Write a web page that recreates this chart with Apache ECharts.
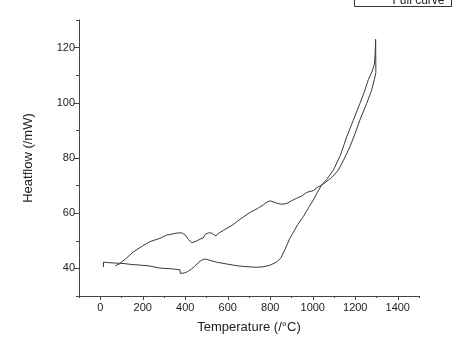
<!DOCTYPE html>
<html>
<head>
<meta charset="utf-8">
<script src="https://cdn.jsdelivr.net/npm/echarts@6/dist/echarts.min.js"></script>
<style>
  html, body { margin: 0; padding: 0; background: #fff; }
  #chart { width: 474px; height: 345px; }
</style>
</head>
<body>
<div id="chart"></div>
<script>
// DSC run: heating to 1300 °C, then cooling back down
const temperature = [
  15, 15, 36, 77, 107, 150, 187, 230, 281, 330, 375, 377, 395, 410, 430, 450, 470, 485, 500, 517,
  550, 595, 640, 690, 736, 770, 800, 830, 850, 870, 893, 908, 930, 956, 980, 1003, 1025, 1042,
  1066, 1097, 1130, 1160, 1190, 1222, 1245, 1261, 1280, 1290, 1294, 1296, 1297,
  1290, 1277, 1254, 1222, 1200, 1175, 1150, 1120, 1090, 1060, 1042, 1020, 1003, 997, 970, 950,
  924, 900, 880, 861, 846, 825, 799, 780, 767, 740, 705, 658, 620, 580, 556, 545, 535, 524, 510,
  501, 493, 485, 469, 450, 430, 415, 399, 383, 360, 330, 313, 281, 234, 200, 156, 120, 90, 77, 70
];
const heatflow = [
  40.5, 42.3, 42.1, 41.9, 41.8, 41.4, 41.2, 40.9, 40.1, 39.9, 39.5, 38.2, 38.3, 38.8, 39.8, 41.2, 42.6, 43.3, 43.3, 42.9,
  42.2, 41.6, 41.0, 40.6, 40.4, 40.6, 41.2, 42.3, 43.8, 47.0, 51.0, 53.0, 56.0, 58.8, 62.0, 64.8, 68.0, 70.2,
  72.3, 75.6, 81.0, 87.7, 93.5, 99.8, 104.5, 108.3, 111.5, 114.0, 118.0, 123.0, 111.0,
  108.5, 104.6, 99.8, 93.8, 89.0, 84.1, 80.0, 75.6, 73.0, 71.2, 70.2, 69.3, 68.2, 68.7, 67.5, 66.3,
  65.4, 64.5, 63.6, 63.3, 63.3, 63.8, 64.5, 63.8, 63.0, 61.7, 60.3, 57.8, 55.6, 53.8, 52.7, 51.8, 52.2, 52.8, 52.9,
  52.9, 52.3, 51.0, 50.6, 49.8, 49.3, 50.5, 52.2, 52.9, 52.8, 52.3, 52.1, 50.9, 49.7, 48.2, 46.0, 43.5, 41.6, 41.2, 40.9
];

// axis ranges and tick positions
const xRange = [-100, 1500];
const yRange = [30, 130];
const xMajorTicks = [0, 200, 400, 600, 800, 1000, 1200, 1400];
const xMinorTicks = [-100, 100, 300, 500, 700, 900, 1100, 1300, 1500];
const yMajorTicks = [40, 60, 80, 100, 120];
const yMinorTicks = [30, 50, 70, 90, 110, 130];

const seriesName = 'Full curve';
const points = temperature.map((t, i) => [t, heatflow[i]]);

const axisColor = '#444';
const lineColor = '#3a3a3a';
const textColor = '#222';
const font = 'Liberation Sans, Arial, sans-serif';
const plain = v => String(v);

const chart = echarts.init(document.getElementById('chart'), null, { renderer: 'canvas' });
chart.setOption({
  animation: false,
  backgroundColor: '#fff',
  grid: { left: 79, right: 55, top: 20, bottom: 49, containLabel: false },
  // legend box, partly running off the top edge of the page
  graphic: [
    {
      type: 'group',
      left: 354,
      top: -10,
      children: [
        {
          type: 'rect',
          shape: { x: 0, y: 0, width: 97, height: 16 },
          style: { fill: '#fff', stroke: '#333', lineWidth: 1 }
        },
        {
          type: 'line',
          shape: { x1: 4, y1: 6, x2: 33, y2: 6 },
          style: { stroke: lineColor, lineWidth: 1 }
        },
        {
          type: 'text',
          x: 38,
          y: 10,
          style: {
            text: seriesName,
            font: '12px ' + font,
            fill: textColor,
            verticalAlign: 'middle'
          }
        }
      ]
    }
  ],
  xAxis: [
    {
      type: 'value',
      min: xRange[0], max: xRange[1],
      name: 'Temperature (/°C)',
      nameLocation: 'middle',
      nameGap: 25,
      nameTextStyle: { fontFamily: font, fontSize: 13, color: textColor },
      axisLine: { show: true, onZero: false, lineStyle: { color: axisColor, width: 1 } },
      axisTick: { show: true, inside: false, length: 4, customValues: xMajorTicks, lineStyle: { color: axisColor } },
      axisLabel: { customValues: xMajorTicks, formatter: plain, fontFamily: font, fontSize: 11, color: textColor, margin: 6 },
      splitLine: { show: false }
    },
    {
      type: 'value',
      min: xRange[0], max: xRange[1],
      position: 'bottom',
      axisLine: { show: false, onZero: false },
      axisTick: { show: true, inside: false, length: 2, customValues: xMinorTicks, lineStyle: { color: axisColor } },
      axisLabel: { show: false },
      splitLine: { show: false }
    }
  ],
  yAxis: [
    {
      type: 'value',
      min: yRange[0], max: yRange[1],
      name: 'Heatflow (/mW)',
      nameLocation: 'middle',
      nameGap: 44,
      nameTextStyle: { fontFamily: font, fontSize: 13, color: textColor },
      axisLine: { show: true, onZero: false, lineStyle: { color: axisColor, width: 1 } },
      axisTick: { show: true, inside: false, length: 5, customValues: yMajorTicks, lineStyle: { color: axisColor } },
      axisLabel: { customValues: yMajorTicks, formatter: plain, fontFamily: font, fontSize: 11, color: textColor, margin: 4 },
      splitLine: { show: false }
    },
    {
      type: 'value',
      min: yRange[0], max: yRange[1],
      position: 'left',
      axisLine: { show: false, onZero: false },
      axisTick: { show: true, inside: false, length: 3, customValues: yMinorTicks, lineStyle: { color: axisColor } },
      axisLabel: { show: false },
      splitLine: { show: false }
    }
  ],
  series: [
    {
      name: seriesName,
      type: 'line',
      xAxisIndex: 0,
      yAxisIndex: 0,
      data: points,
      showSymbol: false,
      symbol: 'none',
      smooth: false,
      lineStyle: { color: lineColor, width: 1 },
      itemStyle: { color: lineColor }
    }
  ]
});
</script>
</body>
</html>
